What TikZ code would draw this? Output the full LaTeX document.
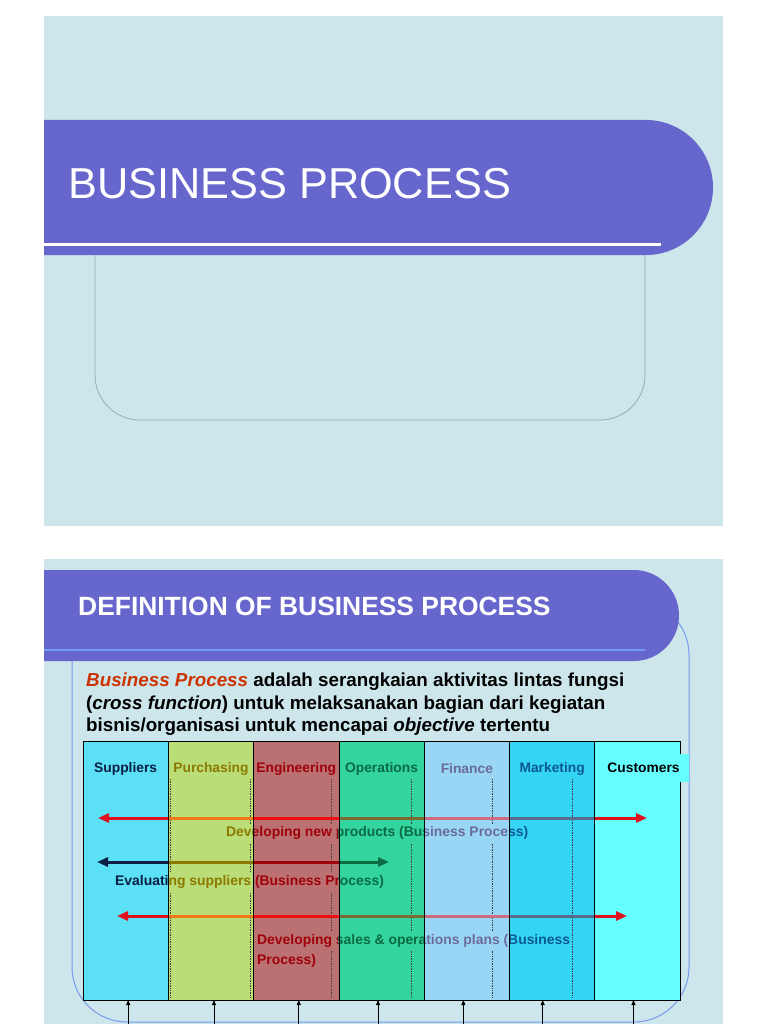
\documentclass[tikz,border=0pt]{standalone}
\usepackage{fontspec}
\setmainfont{Liberation Sans}
\usetikzlibrary{arrows.meta}

\definecolor{slidebg}{HTML}{CCE6EC}
\definecolor{bannerblue}{HTML}{6666CC}
\definecolor{outlineone}{HTML}{8FB0B0}
\definecolor{outlinetwo}{HTML}{7799EE}
\definecolor{bannerrule}{HTML}{6F9BF2}
\definecolor{keyword}{HTML}{CC3300}

\definecolor{supfill}{HTML}{5CE0F6}\definecolor{supink}{HTML}{0A1F45}\definecolor{suphot}{HTML}{E0101E}
\definecolor{purfill}{HTML}{BBDD77}\definecolor{purink}{HTML}{8B7A00}\definecolor{purhot}{HTML}{F07818}
\definecolor{engfill}{HTML}{BB7171}\definecolor{engink}{HTML}{A0000A}\definecolor{enghot}{HTML}{EE1010}
\definecolor{opsfill}{HTML}{33D49D}\definecolor{opsink}{HTML}{0A6B45}\definecolor{opshot}{HTML}{7A6A30}
\definecolor{finfill}{HTML}{99D6F5}\definecolor{finink}{HTML}{6B6B9B}\definecolor{finhot}{HTML}{D06A80}
\definecolor{mktfill}{HTML}{33D4F4}\definecolor{mktink}{HTML}{0B5A8F}\definecolor{mkthot}{HTML}{5A6A8C}
\definecolor{cusfill}{HTML}{66FFFF}\definecolor{cusink}{HTML}{000000}\definecolor{cushot}{HTML}{E0101E}

\begin{document}
\begin{tikzpicture}[x=1pt,y=-1pt]

	\tikzstyle slide=[fill=slidebg];
	\tikzstyle banner=[fill=bannerblue];
	\tikzstyle lane=[inner sep=0pt, outer sep=0pt, minimum width=85.3pt, minimum height=259pt, anchor=north west];
	\tikzstyle lane label=[font=\fontsize{13.8}{16}\selectfont\bfseries, inner sep=0pt];
	\tikzstyle process label=[font=\fontsize{13.9}{16}\selectfont\bfseries, anchor=west, inner xsep=1pt, inner ysep=3pt];
	\tikzstyle flow arrow=[line width=3pt, {Triangle[length=11pt,width=9pt]}-{Triangle[length=11pt,width=9pt]}];
	\tikzstyle feed arrow=[line width=0.8pt, -{Triangle[length=5pt,width=4pt]}];
	\tikzstyle grid dots=[densely dotted, line width=0.7pt, black!75];

	\useasboundingbox[fill=white] (0,0) rectangle (768,1024);

	% first slide
	\fill[slide] (44,16) rectangle (723,526);
	\draw[outlineone, line width=0.8pt, rounded corners=45pt] (95,240) -- (95,420) -- (645,420) -- (645,240);
	\fill[banner] (44,120) -- (646,120) arc[start angle=-90, end angle=90, x radius=67, y radius=67.5] -- (44,255) -- cycle;
	\draw[white, line width=3pt] (44,244) -- (661,244);
	\node[anchor=base west, text=white, inner sep=0pt, font=\fontsize{43.3}{50}\selectfont] (title) at (68,199) {BUSINESS PROCESS};

	% second slide
	\fill[slide] (44,559) rectangle (723,1024);
	\draw[outlinetwo, line width=1pt, rounded corners=55pt] (72,600) rectangle (689,1022);
	\fill[banner] (44,570) -- (634,570) arc[start angle=-90, end angle=90, x radius=45, y radius=45.5] -- (44,661) -- cycle;
	\draw[bannerrule, line width=1.5pt] (44,650) -- (645,650);
	\node[anchor=base west, text=white, inner sep=0pt, font=\fontsize{26.4}{30}\selectfont\bfseries] (heading) at (78,615) {DEFINITION OF BUSINESS PROCESS};
	\node[anchor=north west, inner sep=0pt, align=left, font=\fontsize{18.8}{22.5}\selectfont\bfseries] (defn) at (86,673)
		{\textcolor{keyword}{\itshape Business Process} adalah serangkaian aktivitas lintas fungsi\\
		 (\textit{cross function}) untuk melaksanakan bagian dari kegiatan\\
		 bisnis/organisasi untuk mencapai \textit{objective} tertentu};

	\foreach \name/\fillc [count=\i from 0] in {sup/supfill,pur/purfill,eng/engfill,ops/opsfill,fin/finfill,mkt/mktfill,cus/cusfill}
		\node[lane, fill=\fillc] (\name) at ({83+85.3*\i},741) {};

	\coordinate (np west) at (98,818);  \coordinate (np east) at (647,818);
	\coordinate (es west) at (97,862);  \coordinate (es east) at (389,862);
	\coordinate (so west) at (117,916); \coordinate (so east) at (627,916);

	\foreach \x in {170,250.5,331,411.5,492,572.5}
		\draw[grid dots] (\x,779) -- (\x,998);

	\foreach \name in {sup,pur,eng,ops,fin,mkt,cus}{
		\begin{scope}
			\clip (\name.north west) rectangle (\name.south east);
			\node[process label, text=\name ink, fill=\name fill] (np \name) at (225,833) {Developing new products (Business Process)};
			\node[process label, text=\name ink, fill=\name fill] (es \name) at (114,882) {Evaluating suppliers (Business Process)};
			\node[process label, text=\name ink, fill=\name fill] (so \name) at (256,941) {Developing sales \& operations plans (Business};
			\node[process label, text=\name ink, fill=\name fill] (sp \name) at (256,961) {Process)};
			\draw[flow arrow, \name hot] (np west) -- (np east);
			\draw[flow arrow, \name ink] (es west) -- (es east);
			\draw[flow arrow, \name hot] (so west) -- (so east);
		\end{scope}
	}

	\draw[line width=0.8pt] (sup.north west) rectangle (cus.south east);
	\foreach \name in {pur,eng,ops,fin,mkt,cus}
		\draw[line width=0.8pt] (\name.north west) -- (\name.south west);

	\foreach \name/\label in {sup/Suppliers,pur/Purchasing,eng/Engineering,ops/Operations,fin/Finance,mkt/Marketing}
		\node[lane label, text=\name ink] (\name head) at ([yshift=-27.5pt]\name.north) {\label};
	\node[lane label, text=cusink, fill=cusfill, minimum width=91pt, minimum height=28pt] (cus head) at (643.5,767.5) {Customers};

	\foreach \name/\dx in {sup/2.5,pur/3,eng/2.5,ops/-3.5,fin/-3.5,mkt/-9.5,cus/-4}
		\draw[feed arrow] ([xshift=\dx pt]\name.south) ++(0,26) -- ([xshift=\dx pt]\name.south);

\end{tikzpicture}
\end{document}
